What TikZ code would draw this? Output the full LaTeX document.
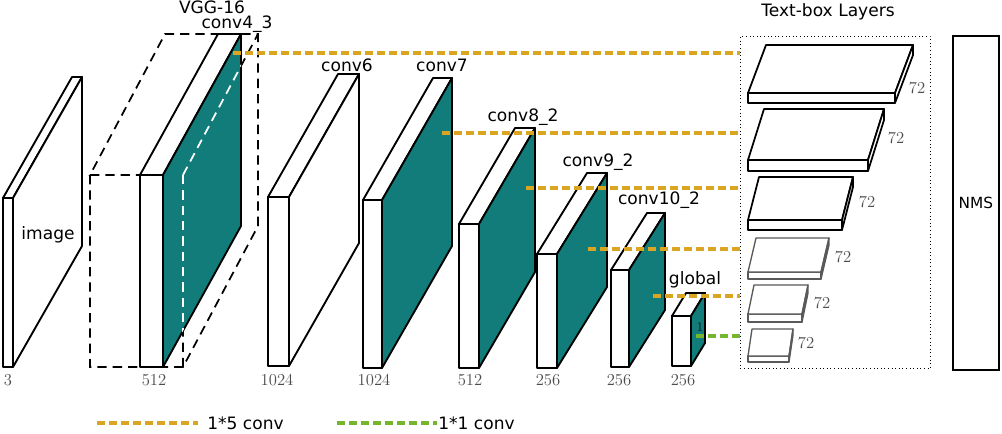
\documentclass[tikz,border=0pt]{standalone}
\usepackage{fontspec}
\newfontfamily\sansf{DejaVu Sans}
\definecolor{tealface}{RGB}{17,124,121}
\definecolor{convfive}{RGB}{218,165,32}
\definecolor{convone}{RGB}{118,182,46}
% #1 name, #2 x, #3 y, #4 w, #5 h, #6 dx, #7 dy, #8 side fill
\newcommand\drawslab[8]{%
  \coordinate (#1-ftl) at (#2,#3);
  \coordinate (#1-ftr) at ({#2+#4},#3);
  \coordinate (#1-fbl) at (#2,{#3+#5});
  \coordinate (#1-fbr) at ({#2+#4},{#3+#5});
  \coordinate (#1-btl) at ({#2+#6},{#3+#7});
  \coordinate (#1-btr) at ({#2+#4+#6},{#3+#7});
  \coordinate (#1-bbr) at ({#2+#4+#6},{#3+#5+#7});
  \draw[slabline,fill=white] (#1-ftl) rectangle (#1-fbr);
  \draw[slabline,fill=white] (#1-ftl) -- (#1-btl) -- (#1-btr) -- (#1-ftr) -- cycle;
  \draw[slabline,fill=#8] (#1-ftr) -- (#1-btr) -- (#1-bbr) -- (#1-fbr) -- cycle;
}
% #1 name, #2 x, #3 y, #4 w, #5 t, #6 dx, #7 dy, #8 style
\newcommand\drawtbox[8]{%
  \coordinate (#1-ftl) at (#2,#3);
  \coordinate (#1-ftr) at ({#2+#4},#3);
  \coordinate (#1-fbl) at (#2,{#3+#5});
  \coordinate (#1-fbr) at ({#2+#4},{#3+#5});
  \coordinate (#1-btl) at ({#2+#6},{#3+#7});
  \coordinate (#1-btr) at ({#2+#4+#6},{#3+#7});
  \coordinate (#1-bbr) at ({#2+#4+#6},{#3+#5+#7});
  \draw[#8,fill=white] (#1-ftl) rectangle (#1-fbr);
  \draw[#8,fill=white] (#1-ftl) -- (#1-btl) -- (#1-btr) -- (#1-ftr) -- cycle;
  \draw[#8,fill=white] (#1-ftr) -- (#1-btr) -- (#1-bbr) -- (#1-fbr) -- cycle;
}
\begin{document}
\begin{tikzpicture}[x=0.75pt,y=-0.75pt,
  slabline/.style={black,line width=1.4pt,line join=round},
  tbdark/.style={black,line width=1.3pt,line join=round},
  tblight/.style={black!65,line width=1pt,line join=round},
  lbl/.style={font=\sansf\fontsize{12.8}{15}\selectfont,inner sep=0pt},
  num/.style={font=\fontsize{12.5}{14}\selectfont,text=black!70,inner sep=0pt},
  tnum/.style={font=\fontsize{12.5}{14}\selectfont,text=black!70,inner sep=0pt},
  five/.style={draw=convfive,line width=2.7pt,dash pattern=on 6pt off 3pt},
  one/.style={draw=convone,line width=2.7pt,dash pattern=on 6pt off 3pt},
  vggbox/.style={line width=1.3pt,dash pattern=on 7pt off 4.5pt},
]
\useasboundingbox[fill=white] (0,0) rectangle (1002,433);

% image slab
\drawslab{img}{3}{198}{10}{169}{69}{-121}{white}
\node[lbl] (limage) at (48,235) {image};

% VGG dashed box
\draw[vggbox,black] (90,175) -- (90,367) -- (183,367) -- (258,226) -- (258,34) -- (165,34) -- (90,175) -- (183,175) -- (183,367);
\draw[vggbox,black] (183,175) -- (258,34);

% conv4_3
\drawslab{c43}{140}{175}{23}{192}{78}{-141}{tealface}
\begin{scope}
  \clip (c43-ftr) -- (c43-btr) -- (c43-bbr) -- (c43-fbr) -- cycle;
  \draw[vggbox,white] (183,175) -- (183,367);
  \draw[vggbox,white] (183,175) -- (258,34);
\end{scope}
\node[lbl] (lvgg) at (212,7) {VGG-16};
\node[lbl] (lc43) at (237,24) {conv4\_3};

% conv6, conv7 ...
\drawslab{c6}{268}{197}{21}{169}{70}{-123}{white}
\node[lbl] (lc6) at (347,65) {conv6};
\drawslab{c7}{363}{200}{19}{168}{70}{-122}{tealface}
\node[lbl] (lc7) at (442,65) {conv7};
\drawslab{c82}{459}{224}{20}{144}{56}{-96}{tealface}
\node[lbl] (lc82) at (523,117) {conv8\_2};
\drawslab{c92}{537}{254}{20}{114}{50}{-81}{tealface}
\node[lbl] (lc92) at (598,162) {conv9\_2};
\drawslab{c102}{611}{270}{18}{97}{36}{-57}{tealface}
\node[lbl] (lc102) at (659,200) {conv10\_2};
\drawslab{glb}{672}{316}{19}{50}{14}{-23}{tealface}
\node[lbl] (lglb) at (695,280) {global};
\node[font=\fontsize{10}{12}\selectfont,text=black!75!tealface,inner sep=0pt] (lone) at (700,327) {1};

% channel numbers
\node[num] (n1) at (8,380) {3};
\node[num] (n2) at (154,380) {512};
\node[num] (n3) at (277,380) {1024};
\node[num] (n4) at (374,380) {1024};
\node[num] (n5) at (470,380) {512};
\node[num] (n6) at (548,380) {256};
\node[num] (n7) at (619,380) {256};
\node[num] (n8) at (683,380) {256};

% Text-box layers
\node[draw,dotted,line width=0.7pt,minimum width=190*0.75pt,minimum height=332*0.75pt,inner sep=0pt,anchor=north west] (tbl) at (740,36) {};
\node[lbl] (ltbl) at (828,12) {Text-box Layers};
\drawtbox{t1}{748}{93}{147}{10}{18}{-48}{tbdark}
\drawtbox{t2}{748}{160}{120}{11}{16}{-51}{tbdark}
\drawtbox{t3}{748}{220}{94}{10}{11}{-43}{tbdark}
\drawtbox{t4}{748}{272}{73}{7}{8}{-34}{tblight}
\drawtbox{t5}{748}{314}{54}{8}{6}{-29}{tblight}
\drawtbox{t6}{748}{356}{41}{6}{4}{-27}{tblight}
\node[tnum] at (917,88) {72};
\node[tnum] at (896,138) {72};
\node[tnum] at (867,202) {72};
\node[tnum] at (843,257) {72};
\node[tnum] at (822,303) {72};
\node[tnum] at (806,343) {72};

% NMS
\node[draw,line width=1.2pt,minimum width=46*0.75pt,minimum height=334*0.75pt,inner sep=0pt,anchor=north west] (nms) at (952,35) {};
\node[font=\sansf\fontsize{11.5}{13}\selectfont] at (nms.center) {NMS};

% connectors
\coordinate (s1) at (233,53);  \coordinate (e1) at (tbl.west |- s1);
\coordinate (s2) at (442,133); \coordinate (e2) at (tbl.west |- s2);
\coordinate (s3) at (526,188); \coordinate (e3) at (tbl.west |- s3);
\coordinate (s4) at (588,249); \coordinate (e4) at (tbl.west |- s4);
\coordinate (s5) at (653,296); \coordinate (e5) at (tbl.west |- s5);
\coordinate (s6) at (696,336); \coordinate (e6) at (tbl.west |- s6);
\draw[five] (s1) -- (e1);
\draw[five] (s2) -- (e2);
\draw[five] (s3) -- (e3);
\draw[five] (s4) -- (e4);
\draw[five] (s5) -- (e5);
\draw[one] (s6) -- (e6);

% legend
\coordinate (la) at (97,423); \coordinate (lb) at (198,423);
\draw[five] (la) -- (lb);
\node[lbl,anchor=west] (lfive) at (207,423) {1*5 conv};
\coordinate (lc) at (337,423); \coordinate (ld) at (437,423);
\draw[one] (lc) -- (ld);
\node[lbl,anchor=west] (lonec) at (438,423) {1*1 conv};
\end{tikzpicture}
\end{document}
